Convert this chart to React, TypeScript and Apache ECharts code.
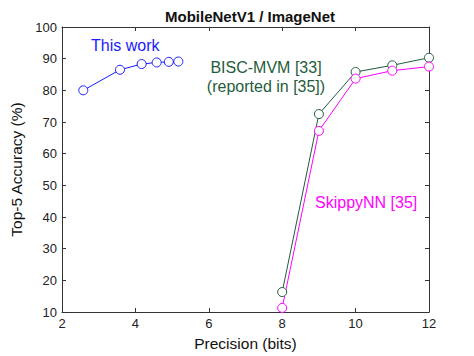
import React, { useEffect, useRef } from "react";
import * as echarts from "echarts";

const thisWorkBits = [2.58, 3.58, 4.17, 4.58, 4.91, 5.17];
const thisWorkAcc = [80.0, 86.5, 88.3, 88.8, 89.0, 89.1];
const baselineBits = [8, 9, 10, 11, 12];
const biscAcc = [16.3, 72.5, 85.8, 87.9, 90.3];
const skippyAcc = [11.3, 67.2, 83.7, 86.2, 87.5];
const xTicks = [2, 4, 6, 8, 10, 12];
const yTicks = [10, 20, 30, 40, 50, 60, 70, 80, 90, 100];

const FONT = "Liberation Sans, Arial, sans-serif";
const BLUE = "#1a1aff";
const GREEN = "#1f5c3c";
const MAGENTA = "#ff00ff";
const AXIS = "#333333";

const zip = (xs: number[], ys: number[]) => xs.map((x, i) => [x, ys[i]]);

const marker = (color: string) => ({
  symbol: "circle",
  symbolSize: 9,
  lineStyle: { color, width: 1 },
  itemStyle: { color: "#ffffff", borderColor: color, borderWidth: 1 },
});

export default function App() {
  const ref = useRef<HTMLDivElement>(null);
  useEffect(() => {
    if (!ref.current) return;
    const chart = echarts.init(ref.current, null, { renderer: "svg" });
    const axisCommon = {
      axisLine: { show: true, lineStyle: { color: AXIS, width: 1 } },
      axisTick: { show: true, inside: true, length: 4, lineStyle: { color: AXIS } },
      splitLine: { show: false },
    };
    chart.setOption({
      animation: false,
      backgroundColor: "#ffffff",
      title: {
        text: "MobileNetV1 / ImageNet",
        left: 245,
        top: 4,
        textAlign: "center",
        textStyle: { fontFamily: FONT, fontSize: 15, fontWeight: "bold", color: "#111" },
      },
      grid: { left: 62, right: 45, top: 27, bottom: 40 },
      xAxis: [
        {
          type: "value",
          min: xTicks[0],
          max: xTicks[xTicks.length - 1],
          interval: 2,
          position: "bottom",
          name: "Precision (bits)",
          nameLocation: "middle",
          nameGap: 23,
          nameTextStyle: { fontFamily: FONT, fontSize: 15.5, color: "#111" },
          axisLabel: { fontFamily: FONT, fontSize: 13, color: "#222", margin: 5 },
          ...axisCommon,
        },
        {
          type: "value",
          min: xTicks[0],
          max: xTicks[xTicks.length - 1],
          interval: 2,
          position: "top",
          axisLabel: { show: false },
          ...axisCommon,
        },
      ],
      yAxis: [
        {
          type: "value",
          min: yTicks[0],
          max: yTicks[yTicks.length - 1],
          interval: 10,
          position: "left",
          name: "Top-5 Accuracy (%)",
          nameLocation: "middle",
          nameGap: 35,
          nameTextStyle: { fontFamily: FONT, fontSize: 15.5, color: "#111" },
          axisLabel: { fontFamily: FONT, fontSize: 13, color: "#222", margin: 5 },
          ...axisCommon,
        },
        {
          type: "value",
          min: yTicks[0],
          max: yTicks[yTicks.length - 1],
          interval: 10,
          position: "right",
          axisLabel: { show: false },
          ...axisCommon,
        },
      ],
      series: [
        { type: "line", name: "This work", data: zip(thisWorkBits, thisWorkAcc), ...marker(BLUE) },
        { type: "line", name: "BISC-MVM [33]", data: zip(baselineBits, biscAcc), ...marker(GREEN) },
        { type: "line", name: "SkippyNN [35]", data: zip(baselineBits, skippyAcc), ...marker(MAGENTA) },
      ],
      graphic: [
        {
          type: "text",
          x: 91,
          y: 37,
          style: { text: "This work", fill: BLUE, fontFamily: FONT, fontSize: 16 },
        },
        {
          type: "text",
          x: 266,
          y: 58,
          style: {
            text: "BISC-MVM [33]\n(reported in [35])",
            fill: GREEN,
            fontFamily: FONT,
            fontSize: 16,
            lineHeight: 19,
            align: "center",
          },
        },
        {
          type: "text",
          x: 315,
          y: 194,
          style: { text: "SkippyNN [35]", fill: MAGENTA, fontFamily: FONT, fontSize: 16 },
        },
      ],
    });
    return () => chart.dispose();
  }, []);
  return (
    <div
      ref={ref}
      style={{ position: "fixed", left: 0, top: 0, width: 474, height: 356, background: "#fff" }}
    />
  );
}
